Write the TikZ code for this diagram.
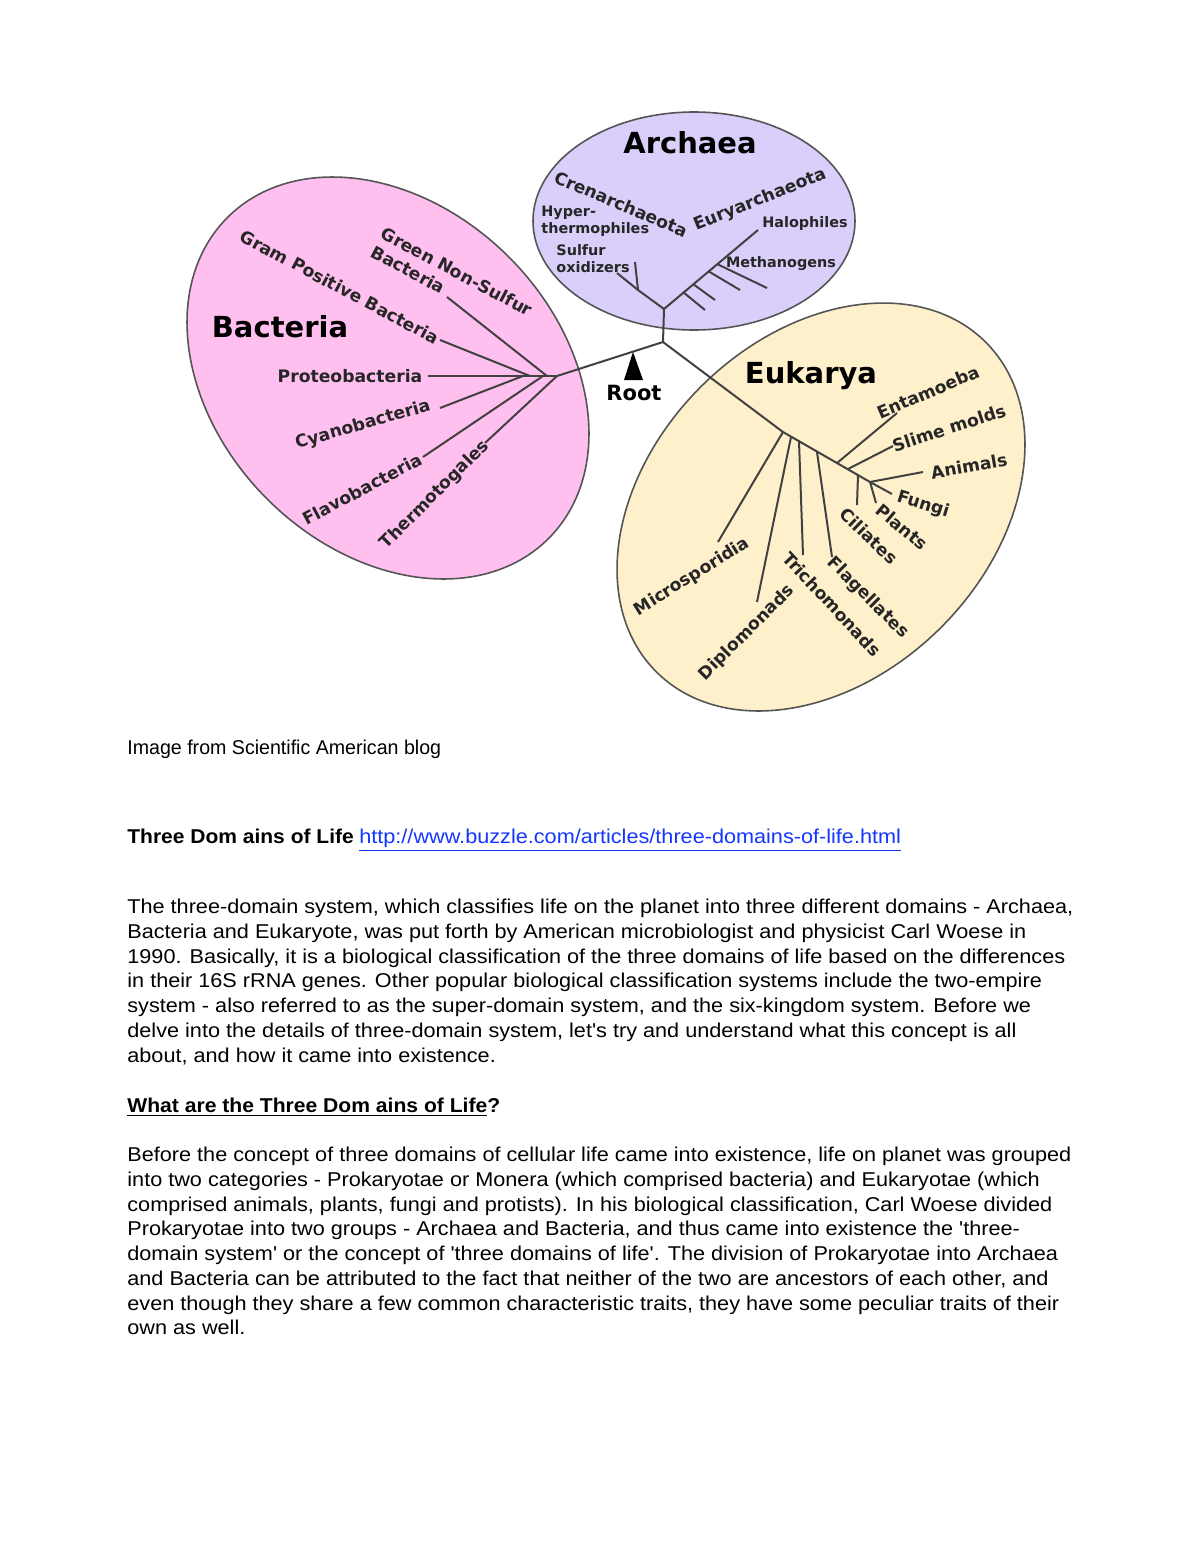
\documentclass[tikz,border=0pt]{standalone}
\usepackage{graphicx}
\usepackage{fontspec}
\setmainfont{Liberation Sans}
\setmonofont{Liberation Sans}
\newfontfamily\dv{DejaVu Sans}
\newcommand\sq{{\ttfamily\char39}}
\newcommand\hs[1]{\scalebox{1.083}[1]{#1}}
\newcommand\hb[1]{\scalebox{1.05}[1]{#1}}
\definecolor{pinkfill}{RGB}{255,192,240}
\definecolor{lavfill}{RGB}{218,207,250}
\definecolor{creamfill}{RGB}{255,240,204}
\definecolor{edgec}{RGB}{85,85,85}
\definecolor{branchc}{RGB}{65,65,65}
\definecolor{linkblue}{RGB}{20,55,255}
\begin{document}
\begin{tikzpicture}[x=0.5pt,y=-0.5pt,
  domainshape/.style={draw=edgec,line width=0.8pt},
  branch/.style={draw=branchc,line width=1pt},
  lab/.style={inner sep=0pt,text=black!85,font=\dv\bfseries\fontsize{8.6}{10.5}\selectfont},
  slab/.style={inner sep=0pt,text=black!85,font=\dv\bfseries\fontsize{7.2}{8.6}\selectfont,align=left,anchor=west},
  ttl/.style={inner sep=0pt,text=black,font=\dv\bfseries\fontsize{14.5}{16}\selectfont},
  body/.style={anchor=base west,inner sep=0pt,font=\fontsize{10}{12}\selectfont}]
\useasboundingbox[fill=white] (0,0) rectangle (1200,1553);

% domain ellipses
\draw[domainshape,fill=pinkfill,rotate around={-45:(388,378)}] (388,378) ellipse [x radius=227,y radius=171];
\draw[domainshape,fill=lavfill] (694,221) ellipse [x radius=161,y radius=109];
\draw[domainshape,fill=creamfill,rotate around={45:(821,507)}] (821,507) ellipse [x radius=233,y radius=170];

% tree coordinates
\coordinate (R) at (663,342);
\coordinate (A) at (664,309);
\coordinate (C1) at (638,290);
\coordinate (C2) at (617,273);
\coordinate (C3) at (635,262);
\coordinate (HE) at (758,230);
\coordinate (M1s) at (683,292); \coordinate (M1e) at (705,310);
\coordinate (M2s) at (693,284); \coordinate (M2e) at (715,300);
\coordinate (M3s) at (708,271); \coordinate (M3e) at (740,290);
\coordinate (M4s) at (717,264); \coordinate (M4e) at (767,288);
\coordinate (H) at (557,376);
\coordinate (HG) at (547,376); \coordinate (HP) at (530,376);
\coordinate (HC) at (523,376); \coordinate (HF) at (543,376);
\coordinate (GNe) at (447,297); \coordinate (GPe) at (440,340);
\coordinate (PRe) at (428,376); \coordinate (CYe) at (440,408);
\coordinate (FLe) at (423,457); \coordinate (THe) at (485,443);
\coordinate (E1) at (783,432); \coordinate (E2) at (870,482);
\coordinate (Ed) at (791,437); \coordinate (Et) at (799,441);
\coordinate (Ef) at (817,452); \coordinate (Ee) at (837,463);
\coordinate (Es) at (848,469); \coordinate (Ec) at (858,475);
\coordinate (micE) at (718,542); \coordinate (dipE) at (757,602);
\coordinate (triE) at (803,555); \coordinate (flaE) at (832,557);
\coordinate (entE) at (897,413); \coordinate (sliE) at (893,446);
\coordinate (cilE) at (857,505); \coordinate (aniE) at (923,472);
\coordinate (plaE) at (876,503); \coordinate (funE) at (892,494);

% branches
\draw[branch] (H) -- (R) -- (A);
\draw[branch] (A) -- (C1) -- (C2);
\draw[branch] (C1) -- (C3);
\draw[branch] (A) -- (HE);
\draw[branch] (M1s) -- (M1e);
\draw[branch] (M2s) -- (M2e);
\draw[branch] (M3s) -- (M3e);
\draw[branch] (M4s) -- (M4e);
\draw[branch] (PRe) -- (H);
\draw[branch] (GNe) -- (HG);
\draw[branch] (GPe) -- (HP);
\draw[branch] (CYe) -- (HC);
\draw[branch] (FLe) -- (HF);
\draw[branch] (THe) -- (H);
\draw[branch] (R) -- (E1) -- (E2) -- (funE);
\draw[branch] (E1) -- (micE);
\draw[branch] (Ed) -- (dipE);
\draw[branch] (Et) -- (triE);
\draw[branch] (Ef) -- (flaE);
\draw[branch] (Ee) -- (entE);
\draw[branch] (Es) -- (sliE);
\draw[branch] (Ec) -- (cilE);
\draw[branch] (E2) -- (aniE);
\draw[branch] (E2) -- (plaE);

% root marker
\fill[black] (633,352) -- (624,380) -- (643,380) -- cycle;
\node[inner sep=0pt,font=\dv\bfseries\fontsize{10.5}{12}\selectfont] (root) at (634,393) {Root};

% titles
\node[ttl] (archaea) at (690,143) {Archaea};
\node[ttl] (bacteria) at (280,327) {Bacteria};
\node[ttl] (eukarya) at (811,376) {Eukarya};

% archaea labels
\node[lab,rotate=-23] (cren) at (621,204) {Crenarchaeota};
\node[lab,rotate=22] (eury) at (760,200) {Euryarchaeota};
\node[slab] (hyper) at (541,221) {Hyper-\\thermophiles};
\node[slab] (sulfur) at (556,259) {Sulfur\\oxidizers};
\node[slab,anchor=center] (halo) at (805,224) {Halophiles};
\node[slab,anchor=center] (metha) at (781,264) {Methanogens};

% bacteria labels
\node[lab,rotate=-28,align=left] (gns) at (452,281) {Green Non-Sulfur\\Bacteria};
\node[lab,rotate=-28] (gpb) at (340,287) {Gram Positive Bacteria};
\node[lab] (proteo) at (350,376) {Proteobacteria};
\node[lab,rotate=16] (cyano) at (363,425) {Cyanobacteria};
\node[lab,rotate=28] (flavo) at (362,489) {Flavobacteria};
\node[lab,rotate=45] (thermo) at (435,495) {Thermotogales};

% eukarya labels
\node[lab,rotate=23] (ent) at (928,392) {Entamoeba};
\node[lab,rotate=18] (slime) at (949,428) {Slime molds};
\node[lab,rotate=10] (animals) at (969,466) {Animals};
\node[lab,rotate=-17] (fungi) at (923,505) {Fungi};
\node[lab,rotate=-40] (plants) at (902,527) {Plants};
\node[lab,rotate=-44] (ciliates) at (869,536) {Ciliates};
\node[lab,rotate=-45] (flag) at (868,598) {Flagellates};
\node[lab,rotate=-47] (tricho) at (832,604) {Trichomonads};
\node[lab,rotate=45] (diplo) at (747,633) {Diplomonads};
\node[lab,rotate=32] (micro) at (692,577) {Microsporidia};

% page text
\node[body] (caption) at (127,754) {\scalebox{0.98}[1]{Image from Scientific American blog}};
\node[body] (head) at (127,843) {\hb{\textbf{Three Dom ains of Life}} \hs{\textcolor{linkblue}{\underline{http://www.buzzle.com/articles/three-domains-of-life.html}}}};

\node[body] (p1a) at (127,913) {\hs{The three-domain system, which classifies life on the planet into three different domains - Archaea,}};
\node[body] (p1b) at (127,938) {\hs{Bacteria and Eukaryote, was put forth by American microbiologist and physicist Carl Woese in}};
\node[body] (p1c) at (127,963) {\hs{1990. Basically, it is a biological classification of the three domains of life based on the differences}};
\node[body] (p1d) at (127,987) {\hs{in their 16S rRNA genes. Other popular biological classification systems include the two-empire}};
\node[body] (p1e) at (127,1012) {\hs{system - also referred to as the super-domain system, and the six-kingdom system. Before we}};
\node[body] (p1f) at (127,1037) {\hs{delve into the details of three-domain system, let\sq s try and understand what this concept is all}};
\node[body] (p1g) at (127,1062) {\hs{about, and how it came into existence.}};

\node[body] (q) at (127,1112) {\scalebox{1.055}[1]{\textbf{\underline{What are the Three Dom ains of Life}?}}};

\node[body] (p2a) at (127,1161) {\hs{Before the concept of three domains of cellular life came into existence, life on planet was grouped}};
\node[body] (p2b) at (127,1186) {\hs{into two categories - Prokaryotae or Monera (which comprised bacteria) and Eukaryotae (which}};
\node[body] (p2c) at (127,1211) {\hs{comprised animals, plants, fungi and protists). In his biological classification, Carl Woese divided}};
\node[body] (p2d) at (127,1235) {\hs{Prokaryotae into two groups - Archaea and Bacteria, and thus came into existence the \sq three-}};
\node[body] (p2e) at (127,1260) {\hs{domain system\sq{} or the concept of \sq three domains of life\sq. The division of Prokaryotae into Archaea}};
\node[body] (p2f) at (127,1285) {\hs{and Bacteria can be attributed to the fact that neither of the two are ancestors of each other, and}};
\node[body] (p2g) at (127,1310) {\hs{even though they share a few common characteristic traits, they have some peculiar traits of their}};
\node[body] (p2h) at (127,1334) {\hs{own as well.}};
\end{tikzpicture}
\end{document}
